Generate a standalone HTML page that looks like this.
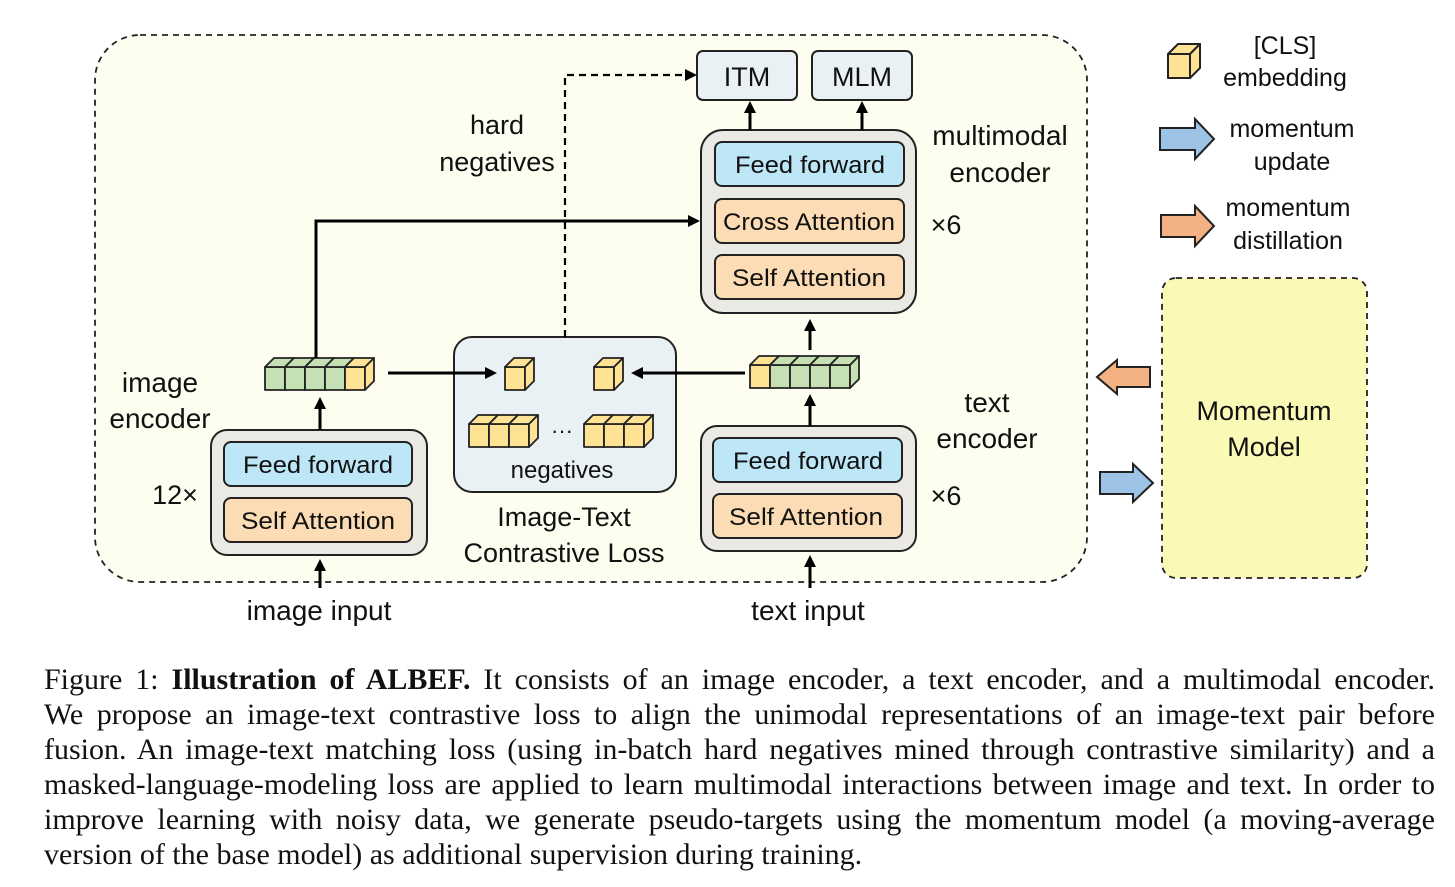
<!DOCTYPE html>
<html><head><meta charset="utf-8"><style>
html,body{margin:0;padding:0;background:#fff;width:1455px;height:887px;overflow:hidden}
svg text{font-family:"Liberation Sans",sans-serif;fill:#111}
.cap{position:absolute;left:44px;top:662px;width:1391px;font-family:"Liberation Serif",serif;font-size:30px;line-height:35px;color:#111}
.cap div{text-align:justify;text-align-last:justify;white-space:nowrap}
.cap div.last{text-align-last:left}
</style></head><body>
<svg width="1455" height="887" style="position:absolute;left:0;top:0">
<defs>
<marker id="ah" markerWidth="12" markerHeight="12" refX="9" refY="6" orient="auto" markerUnits="userSpaceOnUse"><path d="M0,0 L12,6 L0,12z" fill="#000"/></marker>
<g id="yc" stroke="#222" stroke-width="1.8" stroke-linejoin="round"><rect x="0" y="9" width="20" height="23" fill="#ffe394"/><path d="M0,9 L9,0 L29,0 L20,9z" fill="#ffe394"/><path d="M20,9 L29,0 L29,23 L20,32z" fill="#ffe394"/></g>
<g id="gc" stroke="#222" stroke-width="1.8" stroke-linejoin="round"><rect x="0" y="9" width="20" height="23" fill="#c5e0b3"/><path d="M0,9 L9,0 L29,0 L20,9z" fill="#c5e0b3"/><path d="M20,9 L29,0 L29,23 L20,32z" fill="#c5e0b3"/></g>
</defs>
<rect x="95" y="35" width="992" height="547" rx="45" fill="#fefef0" stroke="#222" stroke-width="1.8" stroke-dasharray="6,5"/>
<rect x="1162" y="278" width="205" height="300" rx="14" fill="#fbf9b6" stroke="#222" stroke-width="1.8" stroke-dasharray="6,5"/>
<text x="1264" y="420" font-size="27" text-anchor="middle">Momentum</text>
<text x="1264" y="456" font-size="27" text-anchor="middle">Model</text>
<rect x="211" y="430" width="216" height="125" rx="16" fill="#ebe9e4" stroke="#222" stroke-width="2"/>
<rect x="224" y="442" width="188" height="44" rx="7" fill="#bde6f6" stroke="#222" stroke-width="2"/>
<rect x="224" y="498" width="188" height="44" rx="7" fill="#fbdcb4" stroke="#222" stroke-width="2"/>
<text x="318" y="473" font-size="24" text-anchor="middle" textLength="150" lengthAdjust="spacingAndGlyphs">Feed forward</text>
<text x="318" y="529" font-size="24" text-anchor="middle" textLength="154" lengthAdjust="spacingAndGlyphs">Self Attention</text>
<rect x="701" y="426" width="215" height="125" rx="16" fill="#ebe9e4" stroke="#222" stroke-width="2"/>
<rect x="713" y="438" width="189" height="44" rx="7" fill="#bde6f6" stroke="#222" stroke-width="2"/>
<rect x="713" y="494" width="189" height="44" rx="7" fill="#fbdcb4" stroke="#222" stroke-width="2"/>
<text x="808" y="469" font-size="24" text-anchor="middle" textLength="150" lengthAdjust="spacingAndGlyphs">Feed forward</text>
<text x="806" y="525" font-size="24" text-anchor="middle" textLength="154" lengthAdjust="spacingAndGlyphs">Self Attention</text>
<rect x="701" y="130" width="215" height="183" rx="22" fill="#ebe9e4" stroke="#222" stroke-width="2"/>
<rect x="715" y="142" width="189" height="44" rx="7" fill="#bde6f6" stroke="#222" stroke-width="2"/>
<rect x="715" y="199" width="189" height="44" rx="7" fill="#fbdcb4" stroke="#222" stroke-width="2"/>
<rect x="715" y="255" width="189" height="44" rx="7" fill="#fbdcb4" stroke="#222" stroke-width="2"/>
<text x="810" y="173" font-size="24" text-anchor="middle" textLength="150" lengthAdjust="spacingAndGlyphs">Feed forward</text>
<text x="809" y="230" font-size="24" text-anchor="middle" textLength="172" lengthAdjust="spacingAndGlyphs">Cross Attention</text>
<text x="809" y="286" font-size="24" text-anchor="middle" textLength="154" lengthAdjust="spacingAndGlyphs">Self Attention</text>
<rect x="697" y="51" width="100" height="49" rx="6" fill="#e9f1f4" stroke="#222" stroke-width="2"/>
<rect x="812" y="51" width="100" height="49" rx="6" fill="#e9f1f4" stroke="#222" stroke-width="2"/>
<text x="747" y="86" font-size="27" text-anchor="middle">ITM</text>
<text x="862" y="86" font-size="27" text-anchor="middle">MLM</text>
<rect x="454" y="337" width="222" height="155" rx="18" fill="#e9f1f4" stroke="#222" stroke-width="2"/>
<use href="#yc" x="505" y="358"/><use href="#yc" x="594" y="358"/>
<use href="#yc" x="469" y="415"/><use href="#yc" x="489" y="415"/><use href="#yc" x="509" y="415"/>
<use href="#yc" x="584" y="415"/><use href="#yc" x="604" y="415"/><use href="#yc" x="624" y="415"/>
<text x="562" y="438" font-size="22" text-anchor="middle">···</text>
<text x="562" y="478" font-size="24" text-anchor="middle">negatives</text>
<text x="564" y="526" font-size="27" text-anchor="middle">Image-Text</text>
<text x="564" y="562" font-size="27" text-anchor="middle">Contrastive Loss</text>
<use href="#gc" x="265" y="358"/><use href="#gc" x="285" y="358"/><use href="#gc" x="305" y="358"/><use href="#gc" x="325" y="358"/><use href="#yc" x="345" y="358"/>
<use href="#yc" x="750" y="356"/><use href="#gc" x="770" y="356"/><use href="#gc" x="790" y="356"/><use href="#gc" x="810" y="356"/><use href="#gc" x="830" y="356"/>
<g stroke="#000" stroke-width="3" fill="none">
<line x1="320" y1="588" x2="320" y2="562" marker-end="url(#ah)"/>
<line x1="320" y1="430" x2="320" y2="400" marker-end="url(#ah)"/>
<line x1="810" y1="588" x2="810" y2="558" marker-end="url(#ah)"/>
<line x1="810" y1="426" x2="810" y2="397" marker-end="url(#ah)"/>
<line x1="810" y1="350" x2="810" y2="322" marker-end="url(#ah)"/>
<line x1="750" y1="130" x2="750" y2="104" marker-end="url(#ah)"/>
<line x1="862" y1="130" x2="862" y2="104" marker-end="url(#ah)"/>
<polyline points="316,358 316,221 697,221" marker-end="url(#ah)"/>
<line x1="388" y1="373" x2="494" y2="373" marker-end="url(#ah)"/>
<line x1="745" y1="373" x2="634" y2="373" marker-end="url(#ah)"/>
<polyline points="565,337 565,75 694,75" stroke-width="2.2" stroke-dasharray="7,5" marker-end="url(#ah)"/>
</g>
<path d="M1150,367 L1117,367 L1117,360 L1097,377 L1117,394 L1117,387 L1150,387z" fill="#f4b183" stroke="#222" stroke-width="2"/>
<path d="M1100,472 L1133,472 L1133,464 L1153,483 L1133,502 L1133,494 L1100,494z" fill="#9dc3e6" stroke="#222" stroke-width="2"/>
<path d="M1160,128 L1195,128 L1195,119 L1214,139 L1195,159 L1195,150 L1160,150z" fill="#9dc3e6" stroke="#222" stroke-width="2"/>
<path d="M1161,215 L1195,215 L1195,206 L1214,226 L1195,246 L1195,237 L1161,237z" fill="#f4b183" stroke="#222" stroke-width="2"/>
<g stroke="#222" stroke-width="2" stroke-linejoin="round" fill="#ffe394"><rect x="1168" y="54" width="22" height="24"/><path d="M1168,54 L1178,44 L1200,44 L1190,54z"/><path d="M1190,54 L1200,44 L1200,68 L1190,78z"/></g>
<g font-size="25">
<text x="1285" y="54" text-anchor="middle">[CLS]</text>
<text x="1285" y="86" text-anchor="middle">embedding</text>
<text x="1292" y="137" text-anchor="middle">momentum</text>
<text x="1292" y="170" text-anchor="middle">update</text>
<text x="1288" y="216" text-anchor="middle">momentum</text>
<text x="1288" y="249" text-anchor="middle">distillation</text>
<text x="497" y="134" text-anchor="middle" font-size="27">hard</text>
<text x="497" y="171" text-anchor="middle" font-size="27">negatives</text>
<text x="1000" y="145" text-anchor="middle" font-size="28">multimodal</text>
<text x="1000" y="182" text-anchor="middle" font-size="28">encoder</text>
<text x="946" y="234" text-anchor="middle" font-size="27">×6</text>
<text x="946" y="505" text-anchor="middle" font-size="27">×6</text>
<text x="175" y="504" text-anchor="middle" font-size="27">12×</text>
<text x="160" y="392" text-anchor="middle" font-size="28">image</text>
<text x="160" y="428" text-anchor="middle" font-size="28">encoder</text>
<text x="987" y="412" text-anchor="middle" font-size="28">text</text>
<text x="987" y="448" text-anchor="middle" font-size="28">encoder</text>
<text x="319" y="620" text-anchor="middle" font-size="28">image input</text>
<text x="808" y="620" text-anchor="middle" font-size="28">text input</text>
</g>
</svg>
<div class="cap">
<div>Figure 1: <b>Illustration of ALBEF.</b> It consists of an image encoder, a text encoder, and a multimodal encoder.</div>
<div>We propose an image-text contrastive loss to align the unimodal representations of an image-text pair before</div>
<div>fusion. An image-text matching loss (using in-batch hard negatives mined through contrastive similarity) and a</div>
<div>masked-language-modeling loss are applied to learn multimodal interactions between image and text. In order to</div>
<div>improve learning with noisy data, we generate pseudo-targets using the momentum model (a moving-average</div>
<div class="last">version of the base model) as additional supervision during training.</div>
</div>
</body></html>
